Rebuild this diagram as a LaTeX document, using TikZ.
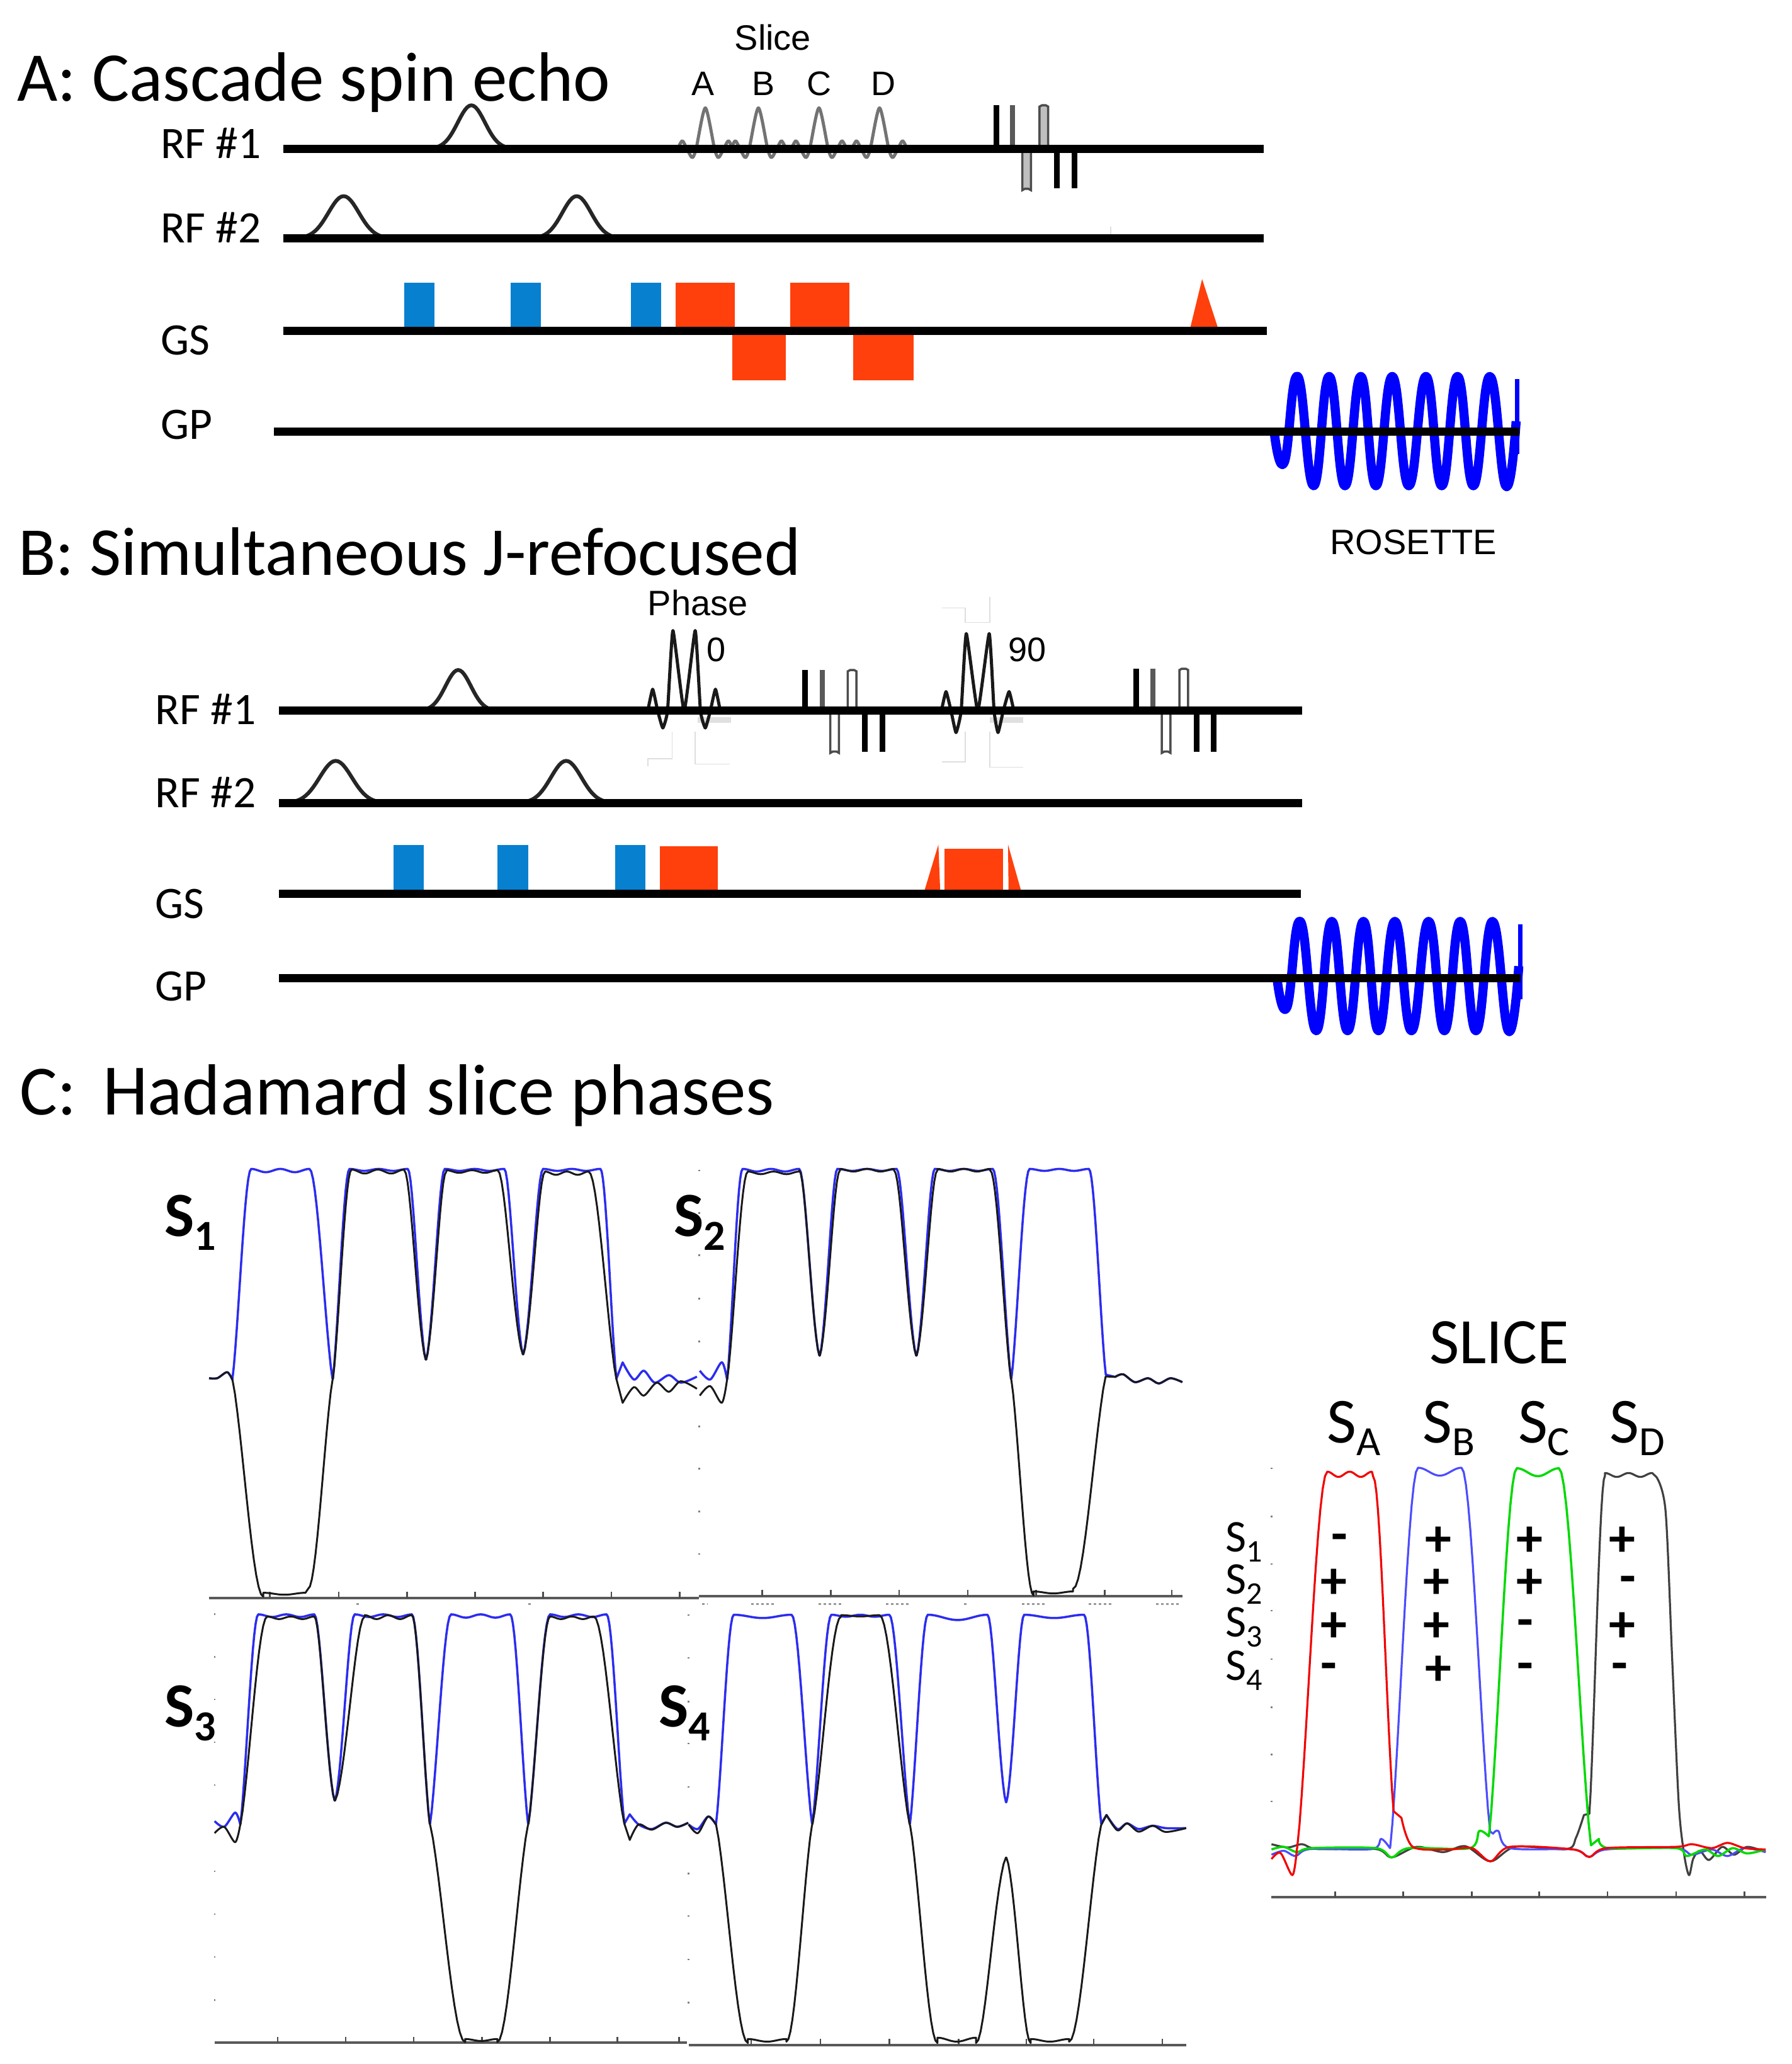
\documentclass[tikz,border=0pt]{standalone}
\usepackage{fontspec}
\setmainfont{Carlito}
\newfontfamily\arialfont{Liberation Sans}
\newcommand{\fsz}[1]{\fontsize{#1}{#1}\selectfont}
% trace pieces
\newcommand{\myrise}[4]{-- plot[domain=0.01:1,samples=14] ({#1+(#2-#1)*\x},{#3+(#4-#3)*sin(90*\x^1.3)})}
\newcommand{\myfall}[4]{-- plot[domain=1:0.01,samples=14] ({#2-(#2-#1)*\x},{#4+(#3-#4)*sin(90*\x^1.3)})}
\newcommand{\mydrise}[4]{-- plot[domain=0.01:1,samples=14] ({#1+(#2-#1)*\x},{#3+(#4-#3)*sin(90*\x^1.55)})}
\newcommand{\mydfall}[4]{-- plot[domain=1:0.01,samples=14] ({#2-(#2-#1)*\x},{#4+(#3-#4)*sin(90*\x^1.55)})}
\newcommand{\myplat}[5]{-- plot[domain=0:1,samples=25] ({#1+(#2-#1)*\x},{#3+#4*(1-cos(360*#5*\x))/2})}
\newcommand{\gauss}[4]{\draw[pulse] plot[domain=-1:1,samples=41] ({#1+#3*\x},{#2-#4*exp(-(2.2*\x)*(2.2*\x))});}
\newcommand{\sincA}[1]{\begin{scope}[shift={(#1,0)}]\draw[sincline] plot[smooth,tension=.45] coordinates {(-21,113)(-17.5,107)(-14,113)(-10,119.7)(-7,113)(0,82)(7,113)(10,119.7)(14,113)(17.5,107)(21,113)};\end{scope}}
\newcommand{\rosettewave}{\draw[wave] plot[smooth,tension=.8] coordinates {(968,330)(975.5,351)(985.6,286)(997.7,369)(1009.5,286)(1021.5,369)(1033.5,286)(1045,369)(1057.4,286)(1070,369)(1083,286)(1095,369)(1107,286)(1119,369)(1131.5,286)(1143.5,369)(1151.5,320)};\draw[blue,line width=7pt] (1152.5,288)--(1152.5,345);}
\newcommand{\hollowup}[4]{\draw[hollow,fill=#4] (#1-3.3,#3) -- (#1-3.3,#2+1) -- (#1-1.5,#2) -- (#1+1.5,#2) -- (#1+3.3,#2+1) -- (#1+3.3,#3) -- cycle;}
\tikzset{
  pulse/.style={draw=black!85,line width=6pt,line join=round},
  sincline/.style={draw=black!55,line width=5pt,line join=round},
  sincdark/.style={draw=black!90,line width=5pt,line join=round},
  ghost/.style={draw=black!13,line width=1.5pt},
  hollow/.style={draw=black!70,line width=3.5pt},
  tickb/.style={draw=black,line width=9pt},
  tickg/.style={draw=black!65,line width=8pt},
  rail/.style={draw=black,line width=13pt},
  bluebox/.style={fill=gsblue},
  redbox/.style={fill=gsred},
  wave/.style={draw=blue,line width=14.5pt,line join=round},
  tblue/.style={draw=plotblue,line width=3.5pt,line join=round},
  tblack/.style={draw=black!90,line width=3pt,line join=round},
  tred/.style={draw=red!95!black,line width=3.2pt,line join=round},
  tgreen/.style={draw=green!85!black,line width=3.5pt,line join=round},
  ptblue/.style={draw=blue!70,line width=3.2pt,line join=round},
  ptblack/.style={draw=black!75,line width=3.2pt,line join=round},
  axisl/.style={draw=black!65,line width=4pt},
  axtick/.style={draw=black!70,line width=2.5pt},
  txt/.style={anchor=base west,inner sep=0pt,outer sep=0pt},
  ctxt/.style={anchor=base,inner sep=0pt,outer sep=0pt},
  ardot/.style={draw=black!50,line width=2.5pt},
  faintd/.style={draw=black!40,line width=2.5pt,dash pattern=on 4pt off 4pt},
}
\definecolor{gsblue}{HTML}{0880D0}
\definecolor{gsred}{HTML}{FF400C}
\definecolor{plotblue}{HTML}{2C2CF0}
\begin{document}
\begin{tikzpicture}[x=2.0911pt,y=-2.0906pt]
\useasboundingbox (0,0) rectangle (1361,1568);
\fill[white] (0,0) rectangle (1361,1568);
%% ---------- titles
\node[txt] (titleA) at (13,77) {\fsz{111}A: Cascade spin echo};
\node[txt] (titleB) at (14,437) {\fsz{109}B: Simultaneous J-refocused};
\node[txt] (titleC) at (15,847) {\fsz{112}C:};
\node[txt] (titleCb) at (78,847) {\fsz{115}Hadamard slice phases};
%% ---------- Panel A labels
\node[txt] (a1) at (122,120.5) {\fsz{71.5}RF \#1};
\node[txt] (a2) at (122,184.5) {\fsz{71.5}RF \#2};
\node[txt] (a3) at (122,269.5) {\fsz{71.5}GS};
\node[txt] (a4) at (122,333.5) {\fsz{71.5}GP};
\node[ctxt] (slicel) at (587,38) {\arialfont\fsz{56}Slice};
\node[ctxt] (sa) at (534,72.5) {\arialfont\fsz{54}A};
\node[ctxt] (sb) at (580,72.5) {\arialfont\fsz{54}B};
\node[ctxt] (sc) at (622,72.5) {\arialfont\fsz{54}C};
\node[ctxt] (sd) at (671,72.5) {\arialfont\fsz{54}D};
\node[ctxt] (ros) at (1073.5,421) {\arialfont\fsz{56}ROSETTE};
%% Panel A pulses
\gauss{358}{113}{32}{33}
\gauss{261}{181}{36}{32}
\gauss{438}{181}{34}{32}
\sincA{535.7}\sincA{576}\sincA{622}\sincA{668}
\draw[tickb] (757,113)--(757,80);
\draw[tickg] (769,113)--(769,80);
\hollowup{792.8}{80}{113}{black!25}
\hollowup{779.7}{143.5}{113}{black!25}
\draw[tickb] (802.6,113)--(802.6,143);
\draw[tickb] (816.3,113)--(816.3,143);
\draw[ghost] (843.5,172)--(843.5,178);
\fill[bluebox] (307,215) rectangle (330,249);
\fill[bluebox] (388,215) rectangle (411,249);
\fill[bluebox] (479,215) rectangle (502,249);
\fill[redbox] (513,215) rectangle (558,249);
\fill[redbox] (600,215) rectangle (645,249);
\fill[redbox] (556,254) rectangle (597,289);
\fill[redbox] (648,254) rectangle (694,289);
\fill[redbox] (904,249) -- (913,212) -- (925,249) -- cycle;
\rosettewave
\draw[rail] (215,113)--(960,113);
\draw[rail] (215,181)--(960,181);
\draw[rail] (215,251.5)--(962,251.5);
\draw[rail] (208,328)--(1154,328);
%% ---------- Panel B labels
\node[txt] (b1) at (118,550.5) {\fsz{71.5}RF \#1};
\node[txt] (b2) at (118,613.5) {\fsz{71.5}RF \#2};
\node[txt] (b3) at (118,697.5) {\fsz{71.5}GS};
\node[txt] (b4) at (118,760.5) {\fsz{71.5}GP};
\node[ctxt] (phase) at (530,467.5) {\arialfont\fsz{56}Phase};
\node[ctxt] (ph0) at (544,502.5) {\arialfont\fsz{54}0};
\node[ctxt] (ph90) at (780,502.5) {\arialfont\fsz{54}90};
%% ghosts of the phase pulses
\draw[ghost] (510.4,556)--(510.4,576.5)--(492,576.5)--(492,582);
\draw[ghost] (528,556)--(528,580.4)--(554.3,580.4);
\draw[ghost] (733.2,556)--(733.2,578.9)--(715.6,578.9);
\draw[ghost] (751.7,556)--(751.7,582.8)--(777.1,582.8);
\draw[ghost] (715.6,461.8)--(733.2,461.8)--(733.2,472.8)--(751.7,472.8)--(751.7,453.7);
%% pulses
\fill[black!12] (530,545) rectangle (555,549);
\fill[black!12] (752,545) rectangle (777,549);
\gauss{348}{540}{30}{31}
\gauss{255}{610}{38}{32}
\gauss{430}{610}{36}{32}
\draw[sincdark] plot[smooth,tension=.25] coordinates {(492,540)(495.7,523.6)(499.5,540)(503.4,553)(507,540)(511.1,479)(519.6,540)(528,479)(532,540)(535.7,553)(539.5,540)(543.4,523.6)(547,540)};
\draw[sincdark] plot[smooth,tension=.25] coordinates {(715,540)(718.5,525.4)(722.3,540)(726.1,556.5)(730,540)(733.9,481.3)(742.6,540)(751.3,481.3)(755,540)(758,556.5)(762,540)(766.4,525.4)(770,540)};
\draw[tickb] (611.5,540)--(611.5,509);
\draw[tickg] (624.4,540)--(624.4,509);
\hollowup{647.2}{509}{540}{white}
\hollowup{633.9}{571}{540}{white}
\draw[tickb] (657,540)--(657,571);
\draw[tickb] (670,540)--(670,571);
\draw[tickb] (862.9,540)--(862.9,508);
\draw[tickg] (875.6,540)--(875.6,508);
\hollowup{899.1}{508}{540}{white}
\hollowup{885.7}{571}{540}{white}
\draw[tickb] (908.9,540)--(908.9,571);
\draw[tickb] (921.9,540)--(921.9,571);
\fill[bluebox] (299,642) rectangle (322,677);
\fill[bluebox] (378,642) rectangle (401,677);
\fill[bluebox] (467,642) rectangle (490,677);
\fill[redbox] (501,643) rectangle (545,677);
\fill[redbox] (702,677) -- (712.7,641.6) -- (714.1,677) -- cycle;
\fill[redbox] (717.5,645) rectangle (762,677);
\fill[redbox] (766,677) -- (765.6,641.6) -- (775.6,677) -- cycle;
\begin{scope}[shift={(2,414)}]\rosettewave\end{scope}
\draw[rail] (212,540)--(989,540);
\draw[rail] (212,610)--(989,610);
\draw[rail] (212,679)--(988,679);
\draw[rail] (212,743)--(1155,743);
%% ---------- Panel C: axes
\draw[axisl] (159,1214)--(531,1214);
\foreach \t in {205,257.3,309.1,360.7,412.5,464.4,516.2} \draw[axtick] (\t,1214)--(\t,1209.4);
\draw[axisl] (531,1212.5)--(898,1212.5);
\foreach \t in {579,631,683,735,787,839,890} \draw[axtick] (\t,1212.5)--(\t,1208);
\draw[axisl] (163,1551.6)--(521.7,1551.6);
\foreach \t in {210.8,262.6,314.3,366,417.8,469,515.8} \draw[axtick] (\t,1551.6)--(\t,1547.4);
\draw[axisl] (523,1553.5)--(900.9,1553.5);
\foreach \t in {570.5,623.2,675.4,728,779.4,830.6,882.8} \draw[axtick] (\t,1553.5)--(\t,1549);
\foreach \t in {888.6,921,953,986,1018.4,1083,1115,1147.6,1180} \draw[ardot] (531,\t)--(531,\t+1.2);
\foreach \t in {1225.7,1258.2,1290.5,1323,1355.5,1421,1453.6,1486,1518.9} \draw[ardot] (163,\t)--(163,\t+1.2);
\foreach \t in {1226.4,1258.9,1292,1324,1357,1422.7,1455,1488,1520.8} \draw[ardot] (523,\t)--(523,\t+1.2);
\foreach \a/\b in {270.5/272.5,401/403,533/537,570.5/588.5,621.7/639.8,673/691,732/734,776/794,827/846,878/896.5} \draw[faintd] (\a,1218.6)--(\b,1218.6);
%% S1
\draw[tblue] plot[smooth] coordinates {(158.8,1047)(165,1047)(172.5,1042.4)(176.4,1048)}
 \myrise{176.4}{190.8}{1048}{888}\myplat{190.8}{235}{888}{2.5}{2}\myfall{235}{252.7}{888}{1048}
 \myrise{252.7}{265.5}{1048}{888}\myplat{265.5}{309.7}{888}{1.5}{2}\mydfall{309.7}{323.5}{888}{1033}
 \mydrise{323.5}{337.8}{1033}{888}\myplat{337.8}{383}{888}{1.5}{2}\mydfall{383}{397.3}{888}{1029}
 \mydrise{397.3}{412.5}{1029}{888}\myplat{412.5}{456}{888}{1.5}{2}\myfall{456}{468.3}{888}{1048}
 -- plot[smooth] coordinates {(472.9,1035)(481.4,1048)(489,1041.3)(497.3,1050.4)(508,1044.7)(517.1,1050.4)(529.3,1045.8)};
\draw[tblack] plot[smooth] coordinates {(158.8,1047)(165,1047)(172.5,1042.4)(176.4,1048)}
 \myrise{176.4}{200}{1048}{1213}\myplat{200}{232}{1210}{1.5}{1}\myfall{234}{252.7}{1207}{1048}
 \myrise{252.7}{267}{1048}{888.5}\myplat{267}{307}{888.5}{3}{2}\mydfall{307}{323.5}{889}{1033}
 \mydrise{323.5}{339}{1033}{890}\myplat{339}{378}{889}{2}{2}\mydfall{378}{397.3}{889}{1029}
 \mydrise{397.3}{414}{1029}{890}\myplat{414}{447}{890}{2.5}{2}\myfall{447}{468.3}{890}{1048}
 -- plot[smooth] coordinates {(472.9,1065.7)(481.4,1053.8)(489,1060.2)(498.8,1050.4)(508,1057.3)(517,1049.3)(529.3,1055)};
%% S2
\draw[tblue] plot[smooth] coordinates {(531.5,1041.3)(539.4,1048)(548.2,1034.9)(552.2,1048)}
 \myrise{552.2}{564}{1048}{888}\myplat{564}{607}{888}{2}{2}\mydfall{607}{622.5}{888}{1030}
 \mydrise{622.5}{636}{1030}{888}\myplat{636}{681}{888}{1.5}{2}\mydfall{681}{696}{888}{1030}
 \mydrise{696}{710}{1030}{888}\myplat{710}{754}{888}{1.5}{2}\myfall{754}{768}{888}{1048}
 \myrise{768}{782}{1048}{888}\myplat{782}{827}{888}{1.5}{2}\myfall{827}{840}{888}{1045}
 -- plot[smooth] coordinates {(847,1046)(853,1044)(862,1050)(872,1047)(880,1051)(889,1047)(898,1050)};
\draw[tblack] plot[smooth] coordinates {(531.5,1060.2)(539.4,1053)(548.2,1065.7)(552.2,1048)}
 \myrise{552.2}{568}{1048}{890}\myplat{568}{607}{890}{2}{2}\mydfall{607}{622.5}{889}{1030}
 \mydrise{622.5}{638}{1030}{889}\myplat{638}{679}{888}{2}{2}\mydfall{679}{696}{889}{1030}
 \mydrise{696}{712}{1030}{889}\myplat{712}{752}{888}{2}{2}\myfall{752}{768}{889}{1048}
 \myrise{768}{785}{1048}{1212}\myplat{785}{815}{1209}{1.5}{1}\myfall{815}{840}{1207}{1045}
 -- plot[smooth] coordinates {(847,1046)(853,1044)(862,1050)(872,1047)(880,1051)(889,1047)(898,1050)};
%% S3
\draw[tblue] plot[smooth] coordinates {(163,1383.5)(170.3,1387.8)(178.6,1377)(182.5,1386)}
 \myrise{182.5}{196.2}{1386}{1226.4}\myplat{196.2}{238.7}{1226.4}{2}{2}\mydfall{238.7}{254.3}{1226.4}{1368}
 \mydrise{254.3}{269.4}{1368}{1226.4}\myplat{269.4}{312.8}{1226.4}{2}{2}\myfall{312.8}{326.5}{1226.4}{1386}
 \myrise{326.5}{342.6}{1386}{1226.4}\myplat{342.6}{387.5}{1226.4}{2.5}{2}\myfall{387.5}{401.2}{1226.4}{1386}
 \myrise{401.2}{417.8}{1386}{1226.4}\myplat{417.8}{460.7}{1226.4}{2}{2}\myfall{460.7}{474.4}{1226.4}{1386}
 -- plot[smooth] coordinates {(478.3,1378.3)(485,1386)(494.9,1389.5)(505.6,1384.7)(514.4,1387.8)(522.7,1384.7)};
\draw[tblack] plot[smooth] coordinates {(163,1392.6)(170.3,1387.8)(178.6,1399.5)(182.5,1386)}
 \myrise{182.5}{203}{1386}{1228}\myplat{203}{238.7}{1228}{2}{2}\mydfall{238.7}{254.3}{1228}{1368}
 \mydrise{254.3}{277}{1368}{1228}\myplat{277}{312.8}{1227}{3}{2}\myfall{312.8}{326.5}{1227}{1386}
 \myrise{326.5}{353.3}{1386}{1551.4}\myplat{353.3}{377.7}{1549}{1.5}{1}\myfall{377.7}{401.2}{1551.4}{1386}
 \myrise{401.2}{417.8}{1386}{1228}\myplat{417.8}{451}{1228}{2}{2}\myfall{451}{474.4}{1228}{1386}
 -- plot[smooth] coordinates {(478.3,1397.8)(485,1386)(494.9,1390)(505.6,1384.7)(514.4,1387.8)(522.7,1384.7)};
%% S4
\draw[tblue] plot[smooth] coordinates {(523,1386)(530,1389.5)(537.8,1380)(543.7,1386)}
 \myrise{543.7}{557.3}{1386}{1226.7}\myplat{557.3}{601.2}{1226.7}{2.5}{1}\myfall{601.2}{616.9}{1226.7}{1386}
 \myrise{616.9}{631.5}{1386}{1226.7}\myplat{631.5}{675.4}{1226.7}{1.5}{2}\myfall{675.4}{691}{1226.7}{1386}
 \myrise{691}{704.7}{1386}{1226.7}\myplat{704.7}{750}{1226.7}{4}{1}\mydfall{750}{764.2}{1226.7}{1369.3}
 \mydrise{764.2}{777.9}{1369.3}{1226.7}\myplat{777.9}{823.3}{1226.7}{2.5}{1}\myfall{823.3}{836.5}{1226.7}{1386}
 -- plot[smooth] coordinates {(840.4,1378.8)(848.7,1389.5)(856,1385.2)(864.8,1389.5)(875.5,1387)(885.3,1388.8)(900.9,1388.8)};
\draw[tblack] plot[smooth] coordinates {(523,1386)(530,1392.6)(537.8,1380)(543.7,1386)}
 \myrise{543.7}{568}{1386}{1552}\myplat{568}{597.3}{1549}{2}{1}\myfall{597.3}{616.9}{1551}{1386}
 \myrise{616.9}{638.8}{1386}{1228}\myplat{638.8}{668}{1227}{1}{1}\myfall{668}{691}{1227}{1386}
 \myrise{691}{712}{1386}{1552}\myplat{712}{741.3}{1548}{3}{1}\mydfall{741.3}{764.2}{1552}{1411}
 \mydrise{764.2}{782.8}{1411}{1552}\myplat{782.8}{812}{1549}{2}{1}\myfall{812}{836.5}{1551}{1386}
 -- plot[smooth] coordinates {(840.4,1378.8)(848.7,1390.5)(856,1385.2)(864.8,1391.5)(875.5,1387)(885.3,1391.7)(900.9,1388.8)};
%% S labels
\node[txt] (s1) at (125,939) {\bfseries\fsz{100}S\raisebox{-22pt}{\fsz{68}1}};
\node[txt] (s2) at (512,939) {\bfseries\fsz{100}S\raisebox{-22pt}{\fsz{68}2}};
\node[txt] (s3) at (125,1312) {\bfseries\fsz{100}S\raisebox{-22pt}{\fsz{68}3}};
\node[txt] (s4) at (500.5,1312) {\bfseries\fsz{100}S\raisebox{-22pt}{\fsz{68}4}};
%% ---------- SLICE plot
\draw[axisl] (965.7,1441)--(1341.4,1441);
\foreach \t in {1014,1065.8,1117.8,1169,1221,1273,1325} \draw[axtick] (\t,1441)--(\t,1436.7);
\foreach \t in {1114.8,1151.4,1187.5,1223,1259.8,1296.4,1332.4,1368} \draw[ardot] (965.7,\t)--(965.7,\t+1.2);
\draw[ptblack] plot[smooth] coordinates {(965.7,1401)(978,1403.5)(989,1401)(1000.9,1404.7)(1045,1404.7)(1057,1411)(1076,1403)(1096,1407)(1113,1402.5)(1132,1414)(1151,1403)(1190,1404.7)(1197,1396)(1203,1378.8)}
 \myrise{1207}{1219}{1379}{1121}\myplat{1219}{1254.8}{1119}{3}{2}
 -- plot[smooth] coordinates {(1258,1122)(1265,1148)(1270,1260)(1275,1370)(1279,1408)(1282.8,1424.5)(1286,1412)(1291,1406)(1298,1413)(1308,1403)(1317,1409)(1327,1403)(1341,1407)};
\draw[ptblue] plot[smooth] coordinates {(965.7,1409)(975,1406)(984,1410)(995,1404.7)(1042,1404.7)(1049,1397)(1055.7,1404)}
 \myrise{1055.7}{1077}{1404}{1115}\myplat{1077}{1110}{1115}{6}{1}
 \myfall{1110}{1132}{1115}{1392.5}
 -- plot[smooth] coordinates {(1134,1393)(1138,1391)(1146.6,1404)(1195,1405)(1207,1410.7)(1220,1405)(1273,1404)(1285,1409)(1300,1405)(1312,1410)(1325,1404)(1341,1407)};
\draw[tgreen] plot[smooth] coordinates {(965.7,1405)(975,1403)(985,1407)(996,1404)(1045,1404)(1057,1411)(1070,1404)(1116.3,1404)(1123.5,1391)(1130.7,1395)}
 \myrise{1130.7}{1152}{1395}{1115.4}\myplat{1152}{1184}{1115.4}{6}{1}
 \myfall{1184}{1208.6}{1115.4}{1403}
 -- plot[smooth] coordinates {(1214.4,1397)(1221.6,1404)(1273,1404)(1281,1410)(1295,1405)(1305,1410)(1316,1404)(1327,1408)(1341,1405)};
\draw[tred] plot[smooth] coordinates {(965.7,1412.3)(972.6,1407.7)(981.6,1424.5)(985,1404.7)}
 \myrise{985}{1008.1}{1404.7}{1118}\myplat{1008.1}{1042}{1118}{4}{2}
 \myfall{1043}{1058.6}{1122}{1377}
 -- plot[smooth] coordinates {(1064.4,1381)(1073,1403)(1100,1405)(1118,1404)(1132,1414)(1147,1403)(1195,1405)(1207,1410.7)(1220,1404)(1273,1403)(1285,1401)(1300,1404)(1312,1400)(1325,1404)(1341,1405)};
%% SLICE texts
\node[ctxt] (slicet) at (1138.8,1036) {\fsz{103}SLICE};
\node[txt] (ssa) at (1008,1096) {\fsz{102}S\raisebox{-20pt}{\fsz{66}A}};
\node[txt] (ssb) at (1080.5,1096) {\fsz{102}S\raisebox{-20pt}{\fsz{66}B}};
\node[txt] (ssc) at (1153,1096) {\fsz{102}S\raisebox{-20pt}{\fsz{66}C}};
\node[txt] (ssd) at (1222.5,1096) {\fsz{102}S\raisebox{-20pt}{\fsz{66}D}};
\node[txt] (r1) at (931,1179) {\fsz{72}S\raisebox{-16pt}{\fsz{50}1}};
\node[txt] (r2) at (931,1211) {\fsz{72}S\raisebox{-16pt}{\fsz{50}2}};
\node[txt] (r3) at (931,1243.6) {\fsz{72}S\raisebox{-16pt}{\fsz{50}3}};
\node[txt] (r4) at (931,1276.5) {\fsz{72}S\raisebox{-16pt}{\fsz{50}4}};
\foreach \n/\px/\py in {b/1013/1201,c/1013/1233.8,
 e/1092.4/1169,f/1091.2/1201,g/1091.2/1233.8,h/1092.4/1266.8,
 i/1161.9/1169,j/1161.9/1201,
 m/1232.3/1169,o/1232.3/1233.8}
  \node[ctxt] (plus\n) at (\px,\py+13.3) {\bfseries\fsz{84}+};
\foreach \n/\px/\py in {a/1017.4/1169,d/1009.3/1266.8,k/1158.2/1233.8,l/1158.2/1266.8,n/1236.6/1201,p/1230.3/1266.8}
  \node[ctxt] (minus\n) at (\px,\py+10) {\bfseries\fsz{84}-};
\end{tikzpicture}
\end{document}
